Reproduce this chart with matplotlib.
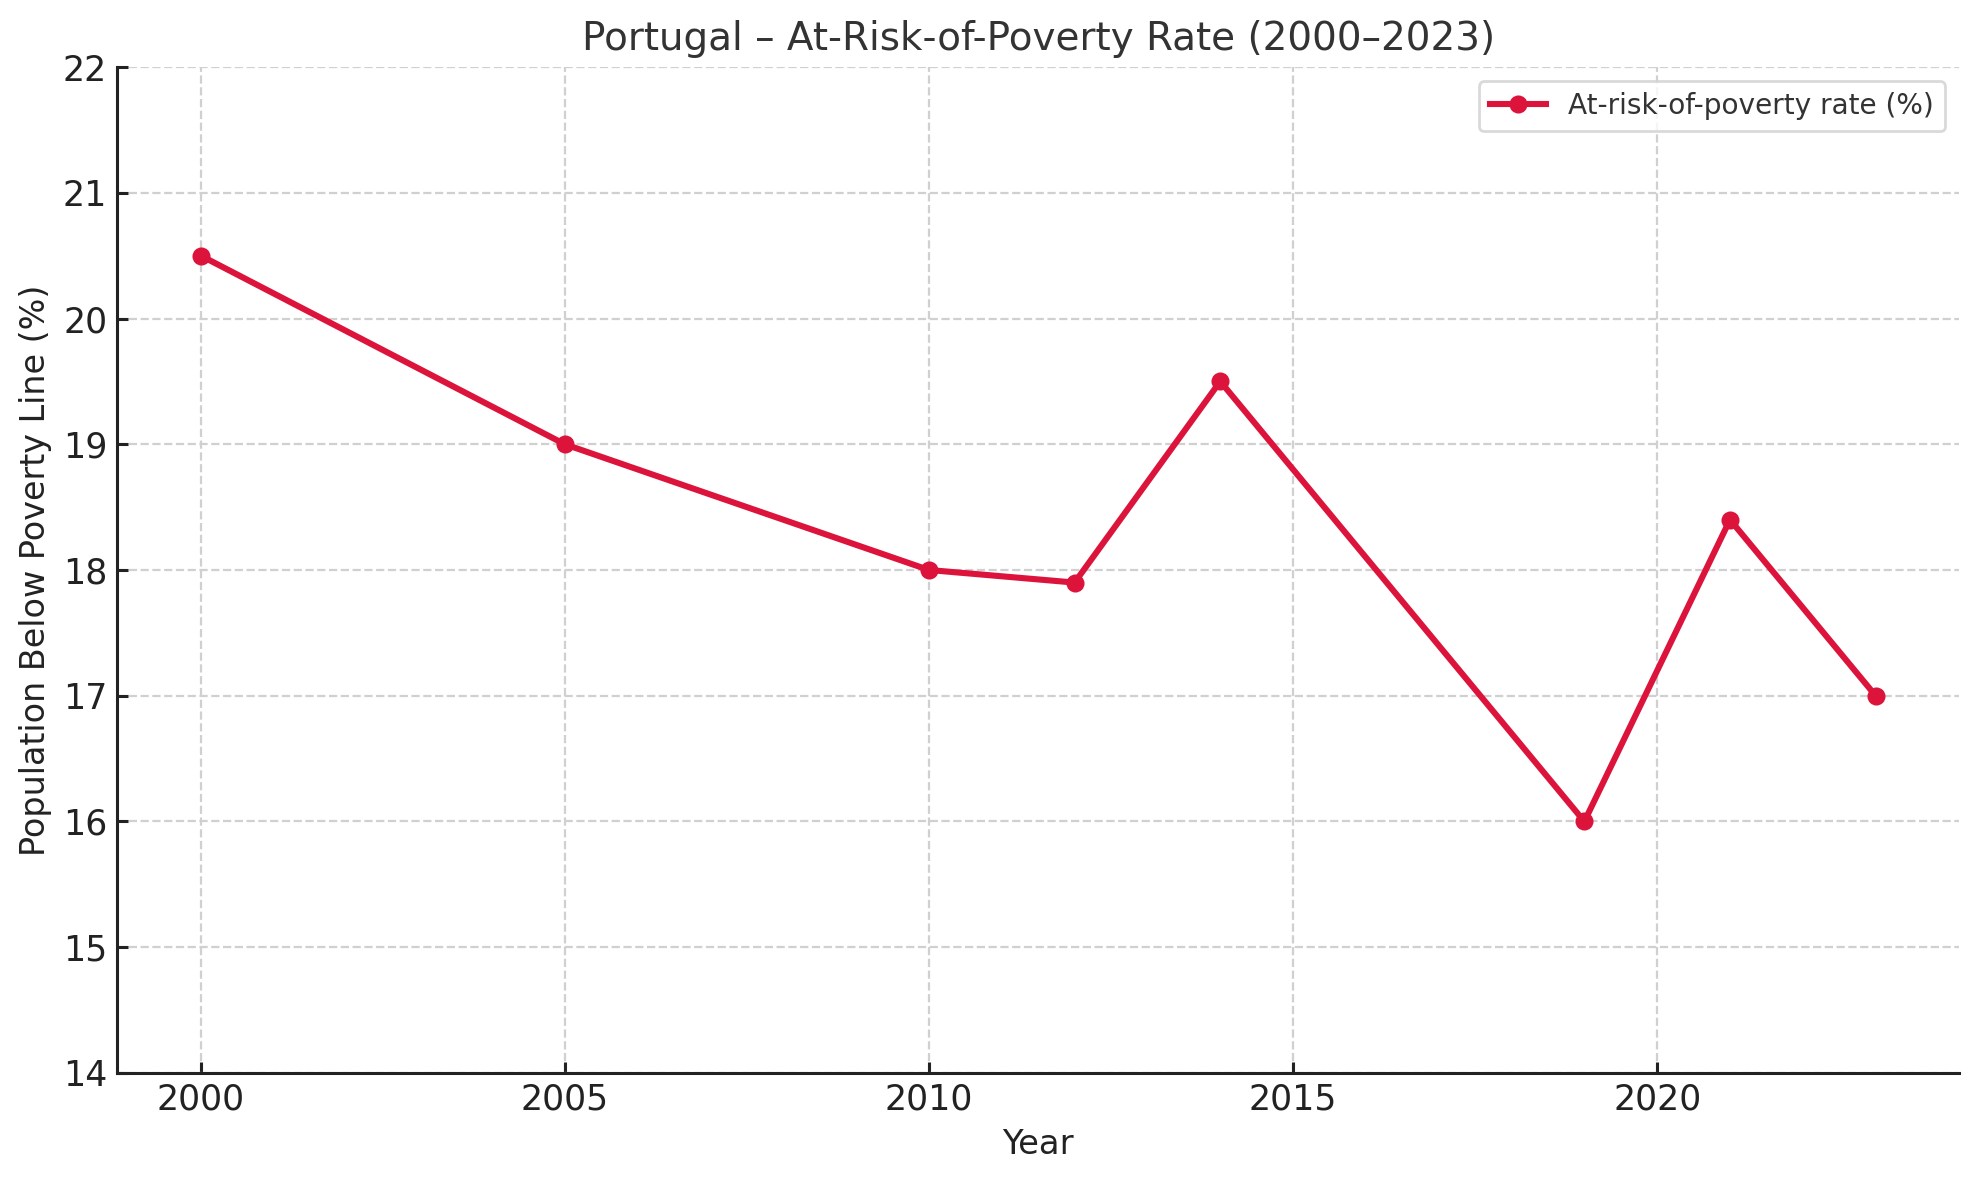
import matplotlib.pyplot as plt

# Portugal at-risk-of-poverty rate
years = [2000, 2005, 2010, 2012, 2014, 2019, 2021, 2023]
poverty_rate = [20.5, 19.0, 18.0, 17.9, 19.5, 16.0, 18.4, 17.0]
y_ticks = [14, 15, 16, 17, 18, 19, 20, 21, 22]

plt.rcParams['font.family'] = ['DejaVu Sans']

fig = plt.figure(figsize=(9.895, 5.9), dpi=200)
ax = fig.add_axes([0.0591, 0.0907, 0.931, 0.8525])

ax.plot(years, poverty_rate, color='#DC143C', linewidth=2.2, marker='o',
        markersize=5.5, label='At-risk-of-poverty rate (%)')

ax.set_ylim(14, 22)
ax.set_yticks(y_ticks)
ax.set_title('Portugal – At-Risk-of-Poverty Rate (2000–2023)', fontsize=14, color='#333333', pad=6)
ax.set_xlabel('Year', fontsize=12.2, color='#222222')
ax.set_ylabel('Population Below Poverty Line (%)', fontsize=12, color='#222222')

ax.grid(True, linestyle='--', color='#d0d0d0', linewidth=0.8)
ax.set_axisbelow(True)
ax.tick_params(direction='in', labelsize=12.5, colors='#222222', length=4, width=1.1)
for side in ['top', 'right']:
    ax.spines[side].set_visible(False)
for side in ['left', 'bottom']:
    ax.spines[side].set_color('#222222')
    ax.spines[side].set_linewidth(1.1)

leg = ax.legend(loc='upper right', fontsize=10.1, frameon=True, fancybox=True)
leg.get_frame().set_edgecolor('#d0d0d0')
for t in leg.get_texts():
    t.set_color('#333333')

fig.savefig('out.png', dpi=200)
